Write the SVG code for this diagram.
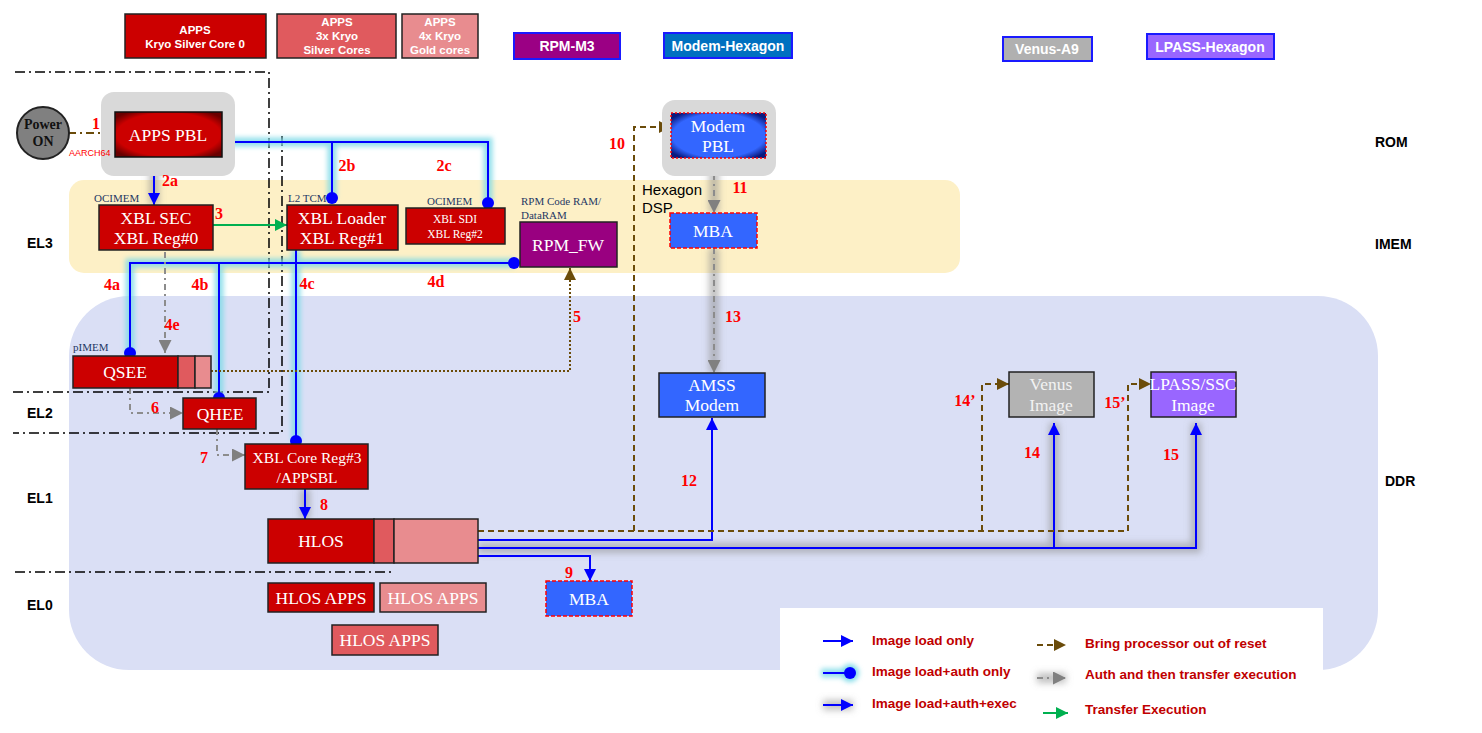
<svg xmlns="http://www.w3.org/2000/svg" width="1482" height="733" viewBox="0 0 1482 733">
<defs>
<style>
.t{font-family:"Liberation Serif",serif;fill:#fff;text-anchor:middle;font-size:17.5px}
.ts{font-family:"Liberation Serif",serif;fill:#fff;text-anchor:middle;font-size:11.5px}
.hb{font-family:"Liberation Sans",sans-serif;font-weight:bold;fill:#fff;text-anchor:middle;font-size:11.5px}
.hb2{font-family:"Liberation Sans",sans-serif;font-weight:bold;fill:#fff;text-anchor:middle;font-size:14px}
.num{font-family:"Liberation Serif",serif;font-weight:bold;fill:#ff0000;font-size:16px;text-anchor:middle}
.lab{font-family:"Liberation Sans",sans-serif;font-weight:bold;font-size:14px;fill:#000}
.sm{font-family:"Liberation Serif",serif;font-size:11px;fill:#1f3864}
.lg{font-family:"Liberation Sans",sans-serif;font-size:13.5px;font-weight:bold;fill:#c00000}
.dd{fill:none;stroke:#000;stroke-width:1.5;stroke-dasharray:10 4 2 4}
.bl{fill:none;stroke:#0000ff;stroke-width:2}
.cg{fill:none;stroke:#7fdbe8;stroke-width:9;opacity:.85}
.gg{fill:none;stroke:#8a8a8a;stroke-width:10;opacity:.55}
.br{fill:none;stroke:#6b4c0a;stroke-width:2;stroke-dasharray:6 4}
.brdd{fill:none;stroke:#6b4c0a;stroke-width:2;stroke-dasharray:8 4 2 4}
.brd{fill:none;stroke:#6b4c0a;stroke-width:2;stroke-dasharray:2 2}
.gy{fill:none;stroke:#8c8c8c;stroke-width:2;stroke-dasharray:6 4 2 4}
.gn{fill:none;stroke:#00b050;stroke-width:2}
.bx{stroke:#222;stroke-width:1.5}
.red{fill:#cc0000}
.pink{fill:#e05a5e}
.lpink{fill:#e88c8f}
.dot{fill:#0000ff}
</style>
<filter id="blur" filterUnits="userSpaceOnUse" x="0" y="0" width="1482" height="733"><feGaussianBlur stdDeviation="2.5"/></filter>
<filter id="blur4" filterUnits="userSpaceOnUse" x="0" y="0" width="1482" height="733"><feGaussianBlur stdDeviation="3.5"/></filter>
<radialGradient id="gRed" cx="50%" cy="50%" r="62%"><stop offset="0.78" stop-color="#cc0000"/><stop offset="1" stop-color="#6a0000"/></radialGradient>
<radialGradient id="gBlue" cx="50%" cy="50%" r="62%"><stop offset="0.78" stop-color="#3366ff"/><stop offset="1" stop-color="#0a1a80"/></radialGradient>
<marker id="aB" viewBox="0 0 10 10" refX="10" refY="5" markerWidth="12" markerHeight="12" markerUnits="userSpaceOnUse" orient="auto"><path d="M0,0L10,5L0,10z" fill="#0000ff"/></marker>
<marker id="aBr" viewBox="0 0 10 10" refX="10" refY="5" markerWidth="12" markerHeight="12" markerUnits="userSpaceOnUse" orient="auto"><path d="M0,0L10,5L0,10z" fill="#6b4c0a"/></marker>
<marker id="aG" viewBox="0 0 10 10" refX="10" refY="5" markerWidth="13" markerHeight="13" markerUnits="userSpaceOnUse" orient="auto"><path d="M0,0L10,5L0,10z" fill="#808080"/></marker>
<marker id="aGr" viewBox="0 0 10 10" refX="10" refY="5" markerWidth="12" markerHeight="12" markerUnits="userSpaceOnUse" orient="auto"><path d="M0,0L10,5L0,10z" fill="#00b050"/></marker>
</defs>

<rect width="1482" height="733" fill="#fff"/>

<g id="bands">
<rect x="69" y="296" width="1309" height="374" rx="60" fill="#dadff5"/>
<rect x="69" y="180" width="891" height="93" rx="15" fill="#fdf0c6"/>
</g>

<g id="frames">
<path class="dd" d="M15,72 H269 V392 H13"/>
<path class="dd" d="M282,136 V433 H13"/>
<path class="dd" d="M15,572 H395"/>
</g>

<g id="level-labels">
<text class="lab" x="27" y="248">EL3</text>
<text class="lab" x="27" y="418">EL2</text>
<text class="lab" x="27" y="503">EL1</text>
<text class="lab" x="27" y="610">EL0</text>
<text class="lab" x="1375" y="147">ROM</text>
<text class="lab" x="1375" y="249">IMEM</text>
<text class="lab" x="1385" y="486">DDR</text>
</g>

<g id="top-legend">
<rect class="bx red" x="125" y="14" width="141" height="44" stroke="#333"/>
<text class="hb" x="195" y="34">APPS</text>
<text class="hb" x="195" y="48">Kryo Silver Core 0</text>
<rect class="bx pink" x="277" y="14" width="119" height="44"/>
<text class="hb" x="337" y="26">APPS</text>
<text class="hb" x="337" y="40">3x Kryo</text>
<text class="hb" x="337" y="54">Silver Cores</text>
<rect class="bx lpink" x="402" y="14" width="76" height="44"/>
<text class="hb" x="440" y="26">APPS</text>
<text class="hb" x="440" y="40">4x Kryo</text>
<text class="hb" x="440" y="54">Gold cores</text>
<rect x="514" y="33" width="106" height="26" fill="#9b0084" stroke="#1a1aff" stroke-width="2"/>
<text class="hb2" x="567" y="51">RPM-M3</text>
<rect x="664" y="33" width="128" height="25" fill="#0070c0" stroke="#1a1aff" stroke-width="2"/>
<text class="hb2" x="728" y="51">Modem-Hexagon</text>
<rect x="1003" y="37" width="89" height="24" fill="#b0b0b0" stroke="#1a1aff" stroke-width="2"/>
<text class="hb2" x="1047" y="54">Venus-A9</text>
<rect x="1147" y="34" width="127" height="25" fill="#9966ff" stroke="#1a1aff" stroke-width="2"/>
<text class="hb2" x="1210" y="52">LPASS-Hexagon</text>
</g>

<g id="connectors">
<g filter="url(#blur)">
<path class="cg" d="M222,142 H488 V203 M332,142 V198 M514,263 H130 V353 M219,263 V398 M296,250 V441"/>
</g>
<g filter="url(#blur4)">
<path class="gg" d="M154,157 V205 M305,489 V519 M478,548 H1196 V423 M1054,548 V423 M714,158 V213 M714,248 V373"/>
</g>
<path class="bl" d="M222,142 H488 V203 M332,142 V198"/>
<path class="bl" d="M514,263 H130 V353 M219,263 V398 M296,250 V441"/>
<circle class="dot" cx="332" cy="198" r="6"/>
<circle class="dot" cx="488" cy="203" r="6"/>
<circle class="dot" cx="514" cy="263" r="6"/>
<circle class="dot" cx="130" cy="353" r="6"/>
<circle class="dot" cx="219" cy="398" r="6"/>
<circle class="dot" cx="296" cy="441" r="6"/>
<path class="bl" marker-end="url(#aB)" d="M154,157 V205"/>
<path class="bl" marker-end="url(#aB)" d="M305,489 V519"/>
<path class="bl" marker-end="url(#aB)" d="M478,548 H1196 V423"/>
<path class="bl" marker-end="url(#aB)" d="M1054,548 V423"/>
<path class="bl" marker-end="url(#aB)" d="M478,540 H712 V418"/>
<path class="bl" marker-end="url(#aB)" d="M478,556 H590 V581"/>
<path class="brdd" marker-end="url(#aBr)" d="M68,133 H113"/>
<path class="br" marker-end="url(#aBr)" d="M478,531 H1128 V384 H1151"/>
<path class="br" marker-end="url(#aBr)" d="M634,531 V127 H671"/>
<path class="br" marker-end="url(#aBr)" d="M982,531 V384 H1009"/>
<path class="brd" marker-end="url(#aBr)" d="M211,371 H570 V268"/>
<path class="gy" marker-end="url(#aG)" d="M165,252 V353"/>
<path class="gy" marker-end="url(#aG)" d="M130,388 V413 H183"/>
<path class="gy" marker-end="url(#aG)" d="M217,429 V455 H245"/>
<path class="gy" marker-end="url(#aG)" d="M714,158 V213"/>
<path class="gy" marker-end="url(#aG)" d="M714,248 V373"/>
<path class="gn" marker-end="url(#aGr)" d="M213,225 H287"/>
</g>

<g id="apps-pbl">
<rect x="101" y="92" width="134" height="84" rx="13" fill="#d9d9d9"/>
<rect x="115" y="112" width="107" height="45" fill="url(#gRed)" stroke="#111" stroke-width="1.5"/>
<text class="t" x="168" y="141">APPS PBL</text>
</g>

<g id="power-on">
<circle cx="43" cy="133" r="26" fill="#808080" stroke="#222" stroke-width="2"/>
<text x="43" y="129" text-anchor="middle" font-family="Liberation Serif,serif" font-weight="bold" font-size="14" fill="#111">Power</text>
<text x="43" y="146" text-anchor="middle" font-family="Liberation Serif,serif" font-weight="bold" font-size="14" fill="#111">ON</text>
<text x="69" y="156" font-family="Liberation Sans,sans-serif" font-size="9" fill="#ff0000">AARCH64</text>
</g>

<g id="xbl-sec">
<text class="sm" x="94" y="202">OCIMEM</text>
<rect class="bx red" x="99" y="205" width="114" height="45"/>
<text class="t" x="156" y="224">XBL SEC</text>
<text class="t" x="156" y="244">XBL Reg#0</text>
</g>

<g id="xbl-loader">
<text class="sm" x="288" y="202">L2 TCM</text>
<rect class="bx red" x="287" y="205" width="111" height="45"/>
<text class="t" x="342" y="224">XBL Loader</text>
<text class="t" x="342" y="244">XBL Reg#1</text>
</g>

<g id="xbl-sdi">
<text class="sm" x="427" y="205">OCIMEM</text>
<rect class="bx red" x="406" y="208" width="99" height="36"/>
<text class="ts" x="455" y="223">XBL SDI</text>
<text class="ts" x="455" y="238">XBL Reg#2</text>
</g>

<g id="rpm-fw">
<text class="sm" x="521" y="205">RPM Code RAM/</text>
<text class="sm" x="521" y="219">DataRAM</text>
<rect class="bx" x="520" y="222" width="97" height="45" fill="#990080"/>
<text class="t" x="568" y="251">RPM_FW</text>
</g>

<g id="qsee">
<text class="sm" x="73" y="351">pIMEM</text>
<rect class="bx red" x="73" y="356" width="105" height="32"/>
<rect class="bx pink" x="178" y="356" width="17" height="32"/>
<rect class="bx lpink" x="195" y="356" width="16" height="32"/>
<text class="t" x="125" y="378">QSEE</text>
</g>

<g id="qhee">
<rect class="bx red" x="183" y="398" width="73" height="31"/>
<text class="t" x="220" y="420">QHEE</text>
</g>

<g id="xbl-core">
<rect class="bx red" x="245" y="444" width="123" height="45"/>
<text class="t" x="307" y="463" style="font-size:15.5px">XBL Core Reg#3</text>
<text class="t" x="307" y="483" style="font-size:15.5px">/APPSBL</text>
</g>

<g id="hlos">
<rect class="bx red" x="268" y="519" width="106" height="44"/>
<rect class="bx pink" x="374" y="519" width="20" height="44"/>
<rect class="bx lpink" x="394" y="519" width="84" height="44"/>
<text class="t" x="321" y="547">HLOS</text>
</g>

<g id="hlos-apps-1">
<rect class="bx red" x="268" y="583" width="106" height="29"/>
<text class="t" x="321" y="604">HLOS APPS</text>
</g>
<g id="hlos-apps-2">
<rect class="bx lpink" x="380" y="583" width="106" height="29"/>
<text class="t" x="433" y="604">HLOS APPS</text>
</g>
<g id="hlos-apps-3">
<rect class="bx pink" x="332" y="625" width="106" height="30"/>
<text class="t" x="385" y="646">HLOS APPS</text>
</g>

<g id="mba-bottom">
<rect x="546" y="581" width="86" height="35" fill="#3366ff" stroke="#ff0000" stroke-width="1.5" stroke-dasharray="4 2"/>
<text class="t" x="589" y="605">MBA</text>
</g>

<g id="modem-pbl">
<rect x="662" y="100" width="114" height="76" rx="13" fill="#d9d9d9"/>
<rect x="671" y="113" width="95" height="45" fill="url(#gBlue)" stroke="#ff0000" stroke-width="1.5" stroke-dasharray="2 2"/>
<text class="t" x="718" y="132">Modem</text>
<text class="t" x="718" y="152">PBL</text>
</g>

<g id="hexagon-dsp">
<text x="642" y="195" font-family="Liberation Sans,sans-serif" font-size="15" fill="#000">Hexagon</text>
<text x="642" y="213" font-family="Liberation Sans,sans-serif" font-size="15" fill="#000">DSP</text>
</g>

<g id="mba-top">
<rect x="670" y="213" width="87" height="35" fill="#3366ff" stroke="#ff0000" stroke-width="1.5" stroke-dasharray="4 2"/>
<text class="t" x="713" y="237">MBA</text>
</g>

<g id="amss">
<rect class="bx" x="659" y="373" width="106" height="44" fill="#3366ff"/>
<text class="t" x="712" y="391">AMSS</text>
<text class="t" x="712" y="411">Modem</text>
</g>

<g id="venus">
<rect class="bx" x="1009" y="372" width="85" height="45" fill="#b3b3b3"/>
<text class="t" x="1051" y="390" style="fill:#f2f2f2">Venus</text>
<text class="t" x="1051" y="411" style="fill:#f2f2f2">Image</text>
</g>

<g id="lpass">
<rect class="bx" x="1151" y="372" width="85" height="45" fill="#9966ff"/>
<text class="t" x="1193" y="390">LPASS/SSC</text>
<text class="t" x="1193" y="411">Image</text>
</g>

<g id="step-labels">
<text class="num" x="96" y="129">1</text>
<text class="num" x="170" y="186">2a</text>
<text class="num" x="347" y="171">2b</text>
<text class="num" x="444" y="171">2c</text>
<text class="num" x="219" y="219">3</text>
<text class="num" x="112" y="290">4a</text>
<text class="num" x="200" y="290">4b</text>
<text class="num" x="307" y="289">4c</text>
<text class="num" x="436" y="287">4d</text>
<text class="num" x="172" y="330">4e</text>
<text class="num" x="577" y="322">5</text>
<text class="num" x="155" y="413">6</text>
<text class="num" x="204" y="463">7</text>
<text class="num" x="324" y="510">8</text>
<text class="num" x="569" y="578">9</text>
<text class="num" x="617" y="149">10</text>
<text class="num" x="740" y="193">11</text>
<text class="num" x="689" y="486">12</text>
<text class="num" x="733" y="322">13</text>
<text class="num" x="965" y="406">14’</text>
<text class="num" x="1032" y="458">14</text>
<text class="num" x="1115" y="408">15’</text>
<text class="num" x="1171" y="460">15</text>
</g>

<g id="legend">
<rect x="780" y="608" width="543" height="125" fill="#fff"/>
<path class="bl" marker-end="url(#aB)" d="M823,641 H853"/>
<text class="lg" x="872" y="645">Image  load only</text>
<g filter="url(#blur)"><path class="cg" d="M821,673 H850"/><circle cx="850" cy="673" r="9" fill="#7fdbe8"/></g>
<path class="bl" d="M823,673 H850"/>
<circle class="dot" cx="850" cy="673" r="6"/>
<text class="lg" x="872" y="676">Image  load+auth  only</text>
<g filter="url(#blur4)"><path class="gg" d="M823,705 H853"/></g>
<path class="bl" marker-end="url(#aB)" d="M823,705 H853"/>
<text class="lg" x="872" y="708">Image  load+auth+exec</text>
<path class="br" marker-end="url(#aBr)" d="M1037,645 H1066"/>
<text class="lg" x="1085" y="648">Bring  processor out of reset</text>
<g filter="url(#blur4)"><path class="gg" d="M1037,678 H1066"/></g>
<path class="gy" marker-end="url(#aG)" d="M1037,678 H1066"/>
<text class="lg" x="1085" y="679">Auth and then transfer execution</text>
<path class="gn" marker-end="url(#aGr)" d="M1043,713 H1068"/>
<text class="lg" x="1085" y="714">Transfer Execution</text>
</g>
</svg>
